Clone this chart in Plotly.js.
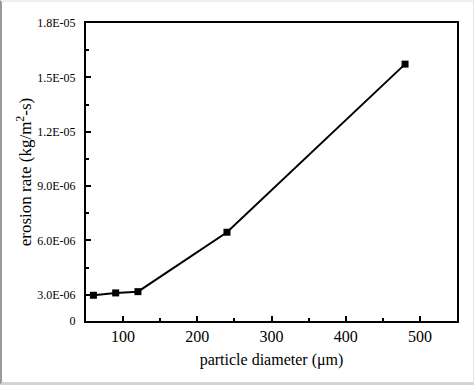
<!DOCTYPE html>
<html>
<head>
<meta charset="utf-8">
<script src="https://cdn.plot.ly/plotly-3.0.1.min.js"></script>
<style>
html,body{margin:0;padding:0;background:#fff;}
#frame{position:absolute;left:0;top:0;width:474px;height:385px;box-sizing:border-box;
  border-left:2px solid #9a9a9a;border-top:2px solid #efefef;border-bottom:3px solid #d4d4d4;border-right:1px solid #e6e6e6;}
#chart{position:absolute;left:0;top:0;width:474px;height:385px;}
</style>
</head>
<body>
<div id="chart"></div>
<div id="frame"></div>
<script>
// particle diameter (µm)
const diameter = [60, 90, 120, 240, 480];
// erosion rate (kg/m^2-s)
const erosionRate = [2.97e-6, 3.1e-6, 3.17e-6, 6.45e-6, 1.573e-5];
const yTickVals = [1.55e-6, 3e-6, 6e-6, 9e-6, 1.2e-5, 1.5e-5, 1.8e-5];
const yTickText = ["0", "3.0E-06", "6.0E-06", "9.0E-06", "1.2E-05", "1.5E-05", "1.8E-05"];
const xTickVals = [100, 200, 300, 400, 500];
const xTickText = ["100", "200", "300", "400", "500"];

const serif = "Liberation Serif, Times New Roman, serif";

const trace = {
  x: diameter, y: erosionRate, type: "scatter", mode: "lines+markers",
  line: {color: "#000", width: 2},
  marker: {symbol: "square", size: 7, color: "#000"},
  hoverinfo: "none"
};

const layout = {
  width: 474, height: 385,
  margin: {l: 86, r: 17, t: 23, b: 64},
  paper_bgcolor: "#fff", plot_bgcolor: "#fff",
  showlegend: false,
  font: {family: serif, color: "#000"},
  xaxis: {
    range: [50, 550], showgrid: false, zeroline: false,
    showline: true, linecolor: "#000", linewidth: 2, mirror: true,
    ticks: "inside", ticklen: 5, tickwidth: 2, tickcolor: "#000",
    tickmode: "array", tickvals: xTickVals, ticktext: xTickText,
    tickfont: {family: serif, size: 16, color: "#000"},
    minor: {ticks: "inside", ticklen: 3, tickwidth: 2, tickcolor: "#000", tickvals: [150, 250, 350, 450], showgrid: false},
    title: {text: "particle diameter (μm)", font: {family: serif, size: 16, color: "#000"}, standoff: 10},
    automargin: false
  },
  yaxis: {
    range: [1.55e-6, 1.8e-5], showgrid: false, zeroline: false,
    showline: true, linecolor: "#000", linewidth: 2, mirror: true,
    ticks: "inside", ticklen: 5, tickwidth: 2, tickcolor: "#000",
    tickmode: "array", tickvals: yTickVals, ticktext: yTickText,
    tickfont: {family: serif, size: 12, color: "#000"},
    ticklabelstandoff: 6,
    minor: {ticks: "inside", ticklen: 3, tickwidth: 2, tickcolor: "#000", tickvals: [4.5e-6, 7.5e-6, 1.05e-5, 1.35e-5, 1.65e-5], showgrid: false},
    title: {text: "erosion rate (kg/m<sup>2</sup>-s)", font: {family: serif, size: 17, color: "#000"}, standoff: 1},
    automargin: false
  }
};

Plotly.newPlot("chart", [trace], layout, {displayModeBar: false, staticPlot: true});
</script>
</body>
</html>
